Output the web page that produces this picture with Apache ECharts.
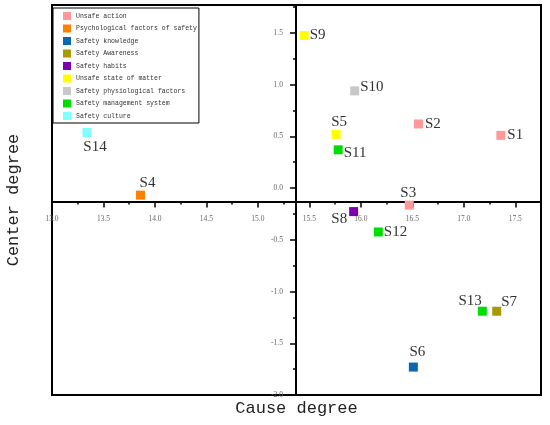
<!DOCTYPE html>
<html>
<head>
<meta charset="utf-8">
<script src="https://cdn.jsdelivr.net/npm/echarts@6/dist/echarts.min.js"></script>
<style>
html,body{margin:0;padding:0;background:#fff;}
#chart{width:550px;height:425px;}
</style>
</head>
<body>
<div id="chart"></div>
<script>
// ---- data ----
const categories = ['Unsafe action', 'Psychological factors of safety', 'Safety knowledge', 'Safety Awareness', 'Safety habits', 'Unsafe state of matter', 'Safety physiological factors', 'Safety management system', 'Safety culture'];
const colors = ['#FF9999', '#FF7F00', '#0A68B0', '#A89A00', '#7A00B0', '#FFFF00', '#C8C8C8', '#00DD00', '#80FFFF'];
const names = ['S1', 'S2', 'S3', 'S4', 'S5', 'S6', 'S7', 'S8', 'S9', 'S10', 'S11', 'S12', 'S13', 'S14'];
const causeDegree = [17.36, 16.56, 16.47, 13.86, 15.76, 16.51, 17.32, 15.93, 15.45, 15.94, 15.78, 16.17, 17.18, 13.34];
const centerDegree = [0.51, 0.62, -0.165, -0.068, 0.52, -1.73, -1.19, -0.227, 1.475, 0.94, 0.37, -0.424, -1.19, 0.537];
const groupOf = ['Unsafe action', 'Unsafe action', 'Unsafe action', 'Psychological factors of safety', 'Unsafe state of matter', 'Safety knowledge', 'Safety Awareness', 'Safety habits', 'Unsafe state of matter', 'Safety physiological factors', 'Safety management system', 'Safety management system', 'Safety management system', 'Safety culture'];
const xRange = [13.0, 17.75];
const yRange = [-2.0, 1.77];
const xCross = 15.37;   // where the vertical axis crosses
const yCross = -0.13;   // where the horizontal axis crosses

// ---- layout / style ----
const G = {left: 52, right: 9, top: 5, bottom: 30, W: 550, H: 425};
const gridW = G.W - G.left - G.right;
const gridH = G.H - G.top - G.bottom;
// axis offsets that put each axis line at the crossing value of the other axis
const xAxisOffset = -((yCross - yRange[0]) / (yRange[1] - yRange[0])) * gridH;
const yAxisOffset = -((xCross - xRange[0]) / (xRange[1] - xRange[0])) * gridW;

const labelPlace = {
  S1: {position: 'right', distance: 2},
  S2: {position: 'right', distance: 2},
  S3: {position: 'top', distance: 0, offset: [-1, 0]},
  S4: {position: 'top', distance: 0, offset: [7, 0]},
  S5: {position: 'top', distance: 0, offset: [3, 0]},
  S6: {position: 'top', distance: 3, offset: [4, 0]},
  S7: {position: 'right', distance: 0, offset: [0, -9]},
  S8: {position: 'left', distance: 2, offset: [0, 7]},
  S9: {position: 'right', distance: 1},
  S10: {position: 'right', distance: 1, offset: [0, -4]},
  S11: {position: 'right', distance: 1, offset: [0, 3]},
  S12: {position: 'right', distance: 1},
  S13: {position: 'left', distance: 0, offset: [4, -10]},
  S14: {position: 'bottom', distance: 3, offset: [8, 0]}
};

const halfFmt = v => (Math.abs(v * 2 - Math.round(v * 2)) < 1e-6 ? v.toFixed(1) : '');

const series = categories.map((cat, ci) => ({
  name: cat,
  type: 'scatter',
  xAxisIndex: 0,
  yAxisIndex: 0,
  symbol: 'rect',
  symbolSize: 9,
  itemStyle: {color: colors[ci], opacity: 1},
  label: {
    show: true,
    formatter: '{b}',
    fontFamily: 'Liberation Serif',
    fontSize: 15,
    color: '#333'
  },
  emphasis: {disabled: true},
  data: names.map((n, i) => ({n, i})).filter(o => groupOf[o.i] === cat).map(o => ({
    name: o.n,
    value: [causeDegree[o.i], centerDegree[o.i]],
    label: labelPlace[o.n]
  }))
}));

const chart = echarts.init(document.getElementById('chart'), null, {renderer: 'canvas'});
chart.setOption({
  animation: false,
  backgroundColor: '#fff',
  grid: {
    left: G.left, right: G.right, top: G.top, bottom: G.bottom,
    containLabel: false,
    outerBoundsMode: 'none',
    show: true,
    borderColor: '#000',
    borderWidth: 2,
    backgroundColor: 'transparent'
  },
  legend: {
    orient: 'vertical',
    left: 53, top: 8,
    padding: [4, 2, 3, 10],
    itemWidth: 8, itemHeight: 8, itemGap: 4.5,
    icon: 'rect',
    borderColor: '#000', borderWidth: 1,
    backgroundColor: '#fff',
    textStyle: {fontFamily: 'Liberation Mono', fontSize: 6.5, color: '#333'},
    data: categories
  },
  xAxis: [
    {
      type: 'value',
      min: xRange[0], max: xRange[1], interval: 0.5,
      position: 'bottom',
      offset: xAxisOffset,
      axisLine: {show: true, onZero: false, lineStyle: {color: '#000', width: 2}},
      axisTick: {show: true, inside: false, length: 6, lineStyle: {color: '#000', width: 1.5}},
      minorTick: {show: true, splitNumber: 2, length: 3, lineStyle: {color: '#000', width: 1.5}},
      axisLabel: {show: true, margin: 13, formatter: halfFmt, fontFamily: 'Liberation Serif', fontSize: 7.5, color: '#666', showMinLabel: true, showMaxLabel: true},
      splitLine: {show: false},
      minorSplitLine: {show: false}
    },
    {
      type: 'value',
      min: xRange[0], max: xRange[1],
      position: 'bottom',
      name: 'Cause degree',
      nameLocation: 'middle',
      nameGap: 5,
      nameTextStyle: {fontFamily: 'Liberation Mono', fontSize: 17, color: '#222', verticalAlign: 'top'},
      axisLine: {show: false, onZero: false},
      axisTick: {show: false},
      axisLabel: {show: false},
      splitLine: {show: false}
    }
  ],
  yAxis: [
    {
      type: 'value',
      min: yRange[0], max: yRange[1], interval: 0.5,
      position: 'left',
      offset: yAxisOffset,
      axisLine: {show: true, onZero: false, lineStyle: {color: '#000', width: 2}},
      axisTick: {show: true, inside: false, length: 6, lineStyle: {color: '#000', width: 1.5}},
      minorTick: {show: true, splitNumber: 2, length: 3, lineStyle: {color: '#000', width: 1.5}},
      axisLabel: {show: true, margin: 13, formatter: halfFmt, fontFamily: 'Liberation Serif', fontSize: 7.5, color: '#666', showMinLabel: true, showMaxLabel: true},
      splitLine: {show: false},
      minorSplitLine: {show: false}
    },
    {
      type: 'value',
      min: yRange[0], max: yRange[1],
      position: 'left',
      name: 'Center degree',
      nameLocation: 'middle',
      nameGap: 30,
      nameTextStyle: {fontFamily: 'Liberation Mono', fontSize: 17, color: '#222'},
      axisLine: {show: false, onZero: false},
      axisTick: {show: false},
      axisLabel: {show: false},
      splitLine: {show: false}
    }
  ],
  series: series
});
</script>
</body>
</html>
